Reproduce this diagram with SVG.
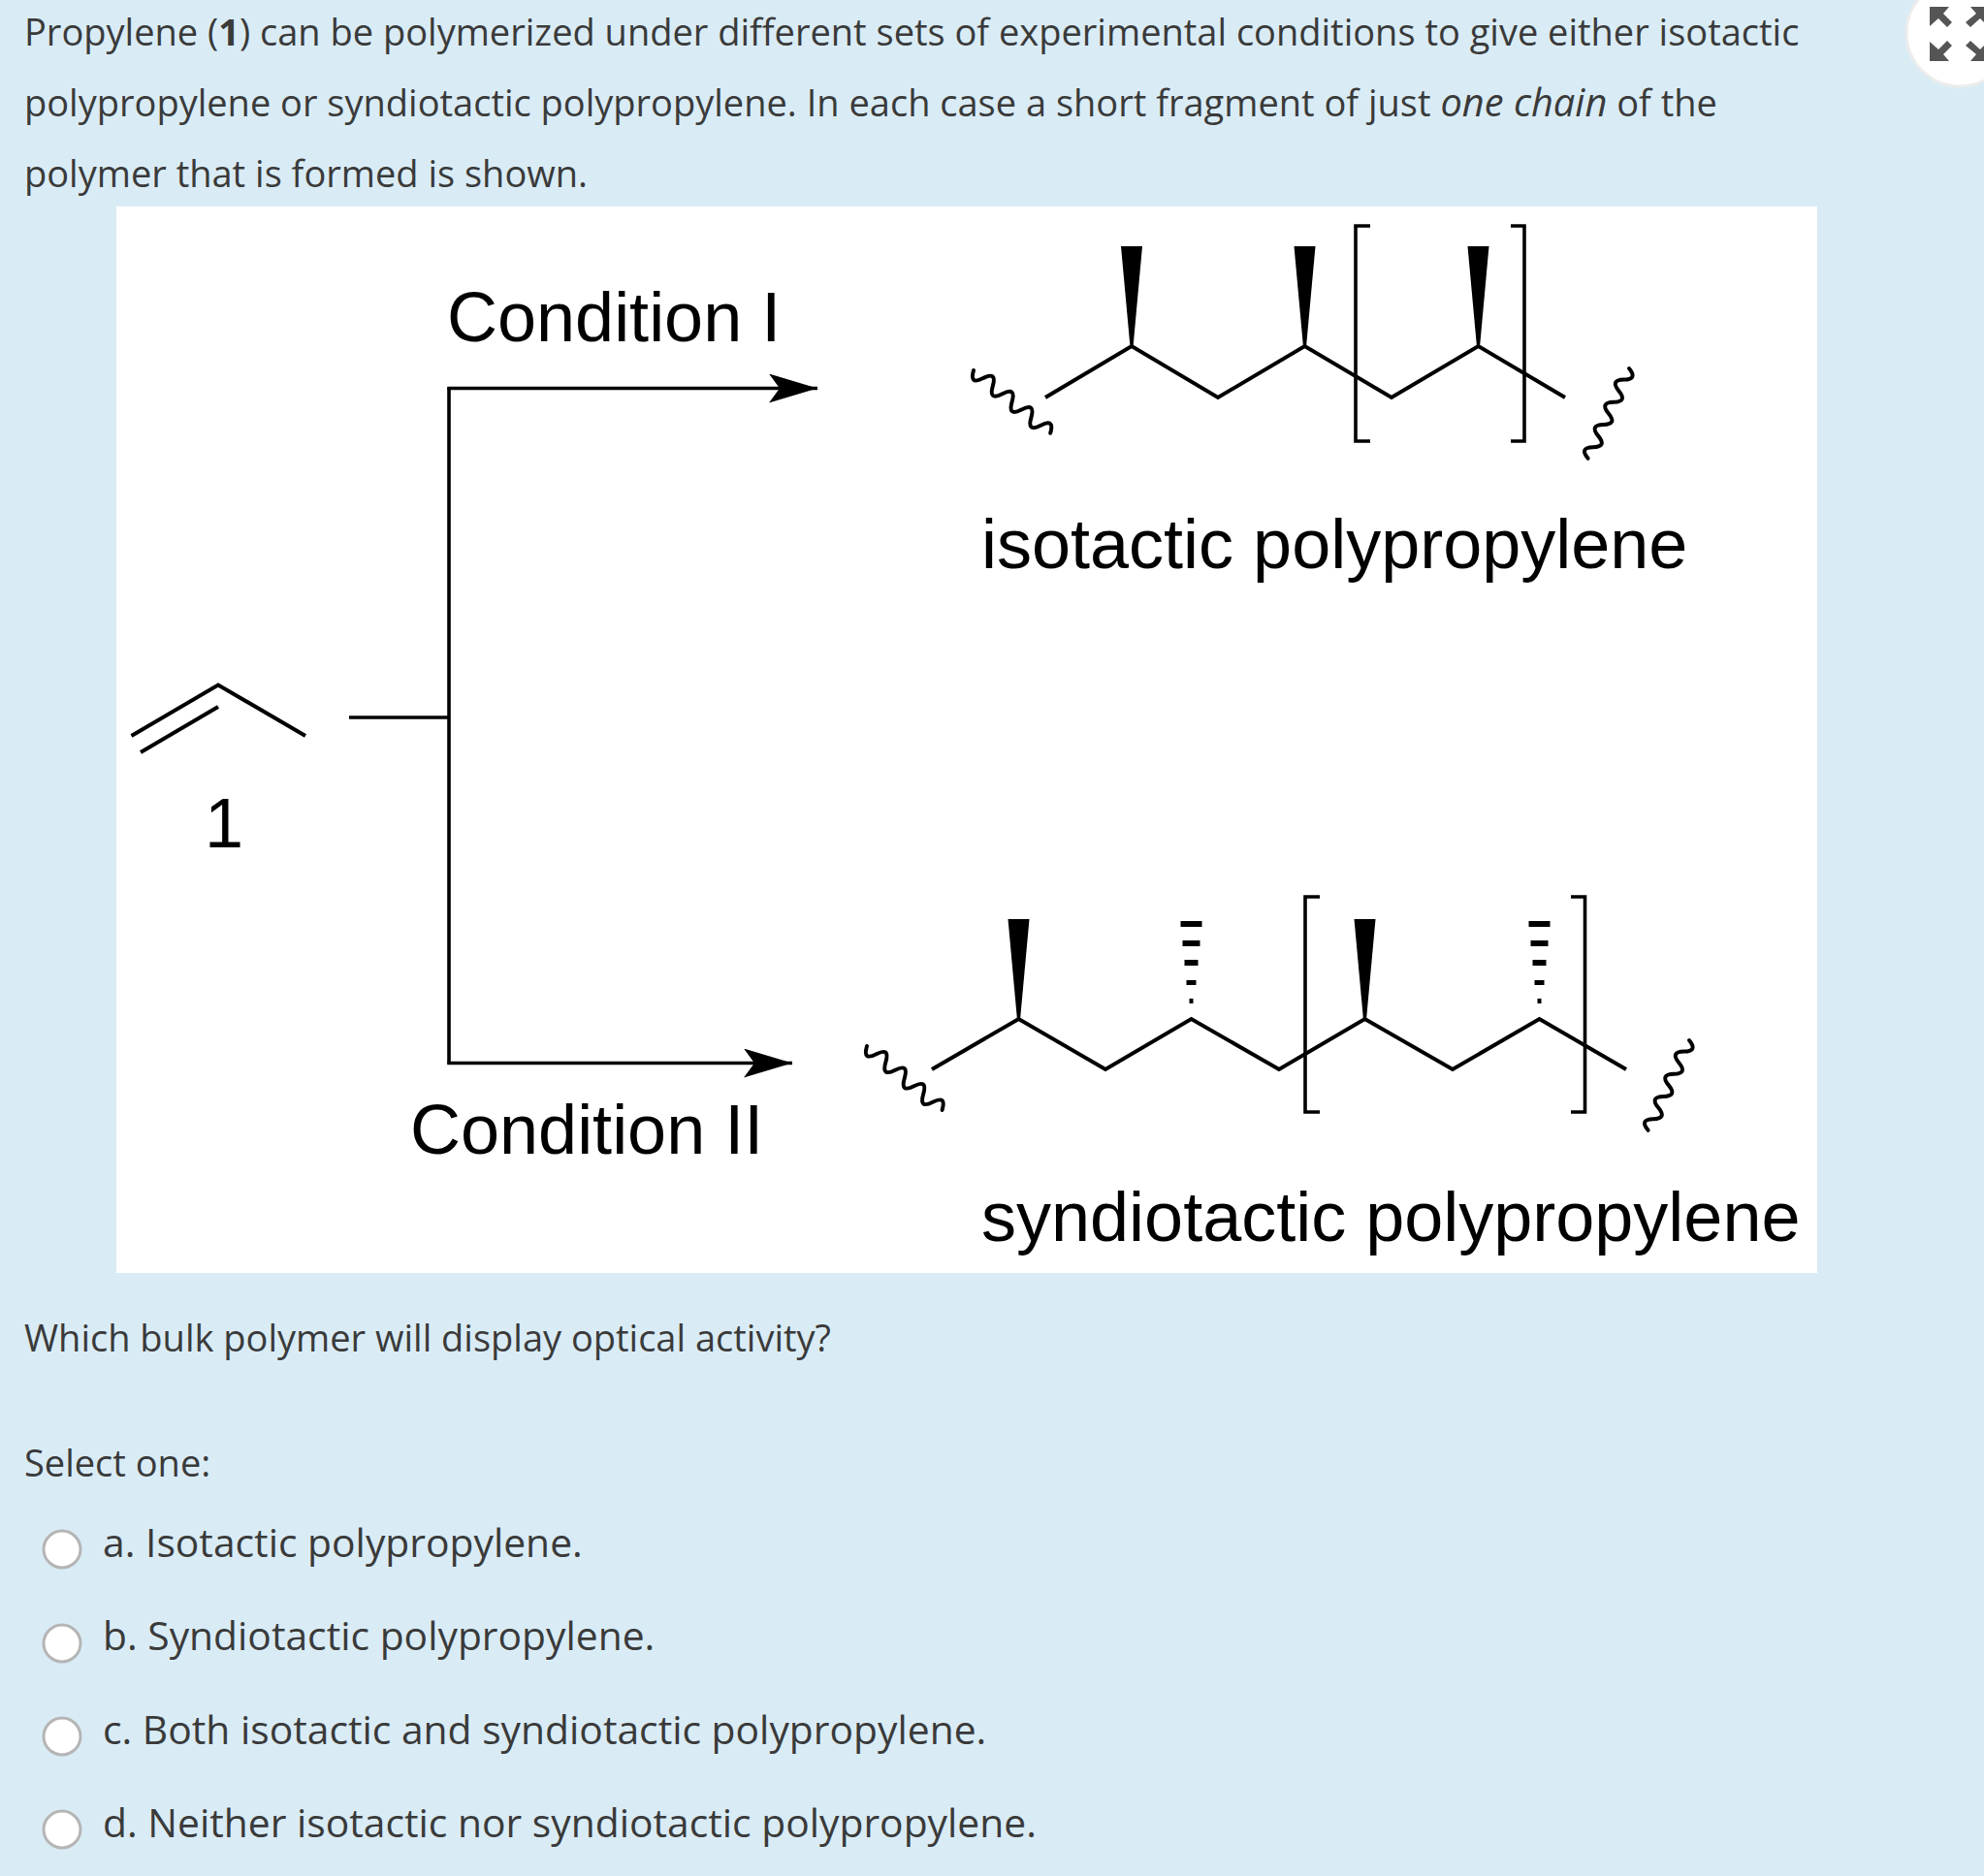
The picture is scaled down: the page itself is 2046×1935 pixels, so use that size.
<svg xmlns="http://www.w3.org/2000/svg" width="2046" height="1935" viewBox="0 0 2046 1935">
<style>
.q{font-family:"Open Sans",sans-serif;font-size:38px;fill:#3a3a3a}
.o{font-family:"Open Sans",sans-serif;font-size:40.800px;fill:#3a3a3a}
.l{font-family:"Liberation Sans",Arial,sans-serif;font-size:72px;fill:#000}
.b{fill:none;stroke:#000;stroke-width:4;stroke-linejoin:miter}
.w{fill:none;stroke:#000;stroke-width:4;stroke-linecap:round}
.c{fill:none;stroke:#000;stroke-width:3.600}
.r{fill:#fff;stroke:#b5b5b5;stroke-width:3}
.h{fill:#000}
</style>
<defs>
<marker id="arrow" markerUnits="userSpaceOnUse" markerWidth="52" markerHeight="32" refX="50" refY="15" orient="auto">
<path d="M50,15 L0,0 L11,15 L0,30 Z" fill="#000"/>
</marker>
<path id="wedge" d="M-1.500,0 L-11,-104 L11,-104 L1.500,0 Z" fill="#000"/>
<g id="hash">
<rect class="h" x="-11" y="-215" width="22" height="6"/>
<rect class="h" x="-9" y="-195" width="18" height="6"/>
<rect class="h" x="-7" y="-175" width="14" height="6"/>
<rect class="h" x="-5" y="-154" width="10" height="5"/>
<rect class="h" x="-2" y="-135" width="4" height="5"/>
</g>
</defs>
<rect width="2046" height="1935" fill="#d9ecf6"/>
<g id="question-text">
<text class="q" x="25" y="47">Propylene (<tspan font-weight="700">1</tspan>) can be polymerized under different sets of experimental conditions to give either isotactic</text>
<text class="q" x="25" y="120">polypropylene or syndiotactic polypropylene. In each case a short fragment of just <tspan font-style="italic" font-size="39.800">one chain</tspan> of the</text>
<text class="q" x="25" y="193">polymer that is formed is shown.</text>
<text class="q" x="25" y="1394">Which bulk polymer will display optical activity?</text>
<text class="q" x="25" y="1523">Select one:</text>
</g>
<g id="expand-icon">
<circle cx="2021" cy="34" r="55" fill="#fff" stroke="#ececec" stroke-width="3"/>
<path fill="#555" d="M1990,7 H2010 L2004,14 L2013,23 L2008,28 L1999,19 L1990,27 Z M2046,7 H2032 L2038,14 L2027,23 L2032,28 L2042,19 L2046,23 Z M1990,63 H2010 L2004,56 L2013,47 L2008,42 L1999,51 L1990,43 Z M2046,63 H2032 L2038,56 L2027,47 L2032,42 L2042,51 L2046,47 Z"/>
</g>
<rect id="figure-panel" x="120" y="213" width="1754" height="1100" fill="#fff"/>
<g id="connectors">
<path class="c" d="M360,740 H463"/>
<path class="c" d="M463,400.500 V1096.500"/>
<path class="c" d="M461.200,400.500 H843" marker-end="url(#arrow)"/>
<path class="c" d="M461.200,1096.500 H817" marker-end="url(#arrow)"/>
</g>
<g id="propylene">
<path class="b" d="M135.500,759 L225,706.500 L315,759"/>
<path class="b" d="M145,776 L225,729"/>
<text class="l" x="231" y="874" text-anchor="middle">1</text>
</g>
<g id="condition-1"><text class="l" x="461" y="352">Condition I</text></g>
<g id="condition-2"><text class="l" x="423" y="1190">Condition II</text></g>
<g id="isotactic">
<path class="b" d="M1078,410 L1167,357 L1256,410 L1345.500,357 L1435,410 L1524.500,357 L1614,410"/>
<use href="#wedge" x="1167" y="358"/>
<use href="#wedge" x="1345.500" y="358"/>
<use href="#wedge" x="1524.500" y="358"/>
<path class="c" d="M1413,233 H1398 V455 H1413"/>
<path class="c" d="M1558,233 H1572 V455 H1558"/>
<path class="w" d="M1004,382 q-4.550,15.650 9.900,8.100 t9.900,8.100 t9.900,8.100 t9.900,8.100 t9.900,8.100 t9.900,8.100 t9.900,8.100 t9.900,8.100"/>
<path class="w" d="M1680,380 q9.350,11.300 -5.300,11.600 t-5.300,11.600 t-5.300,11.600 t-5.300,11.600 t-5.300,11.600 t-5.300,11.600 t-5.300,11.600 t-5.300,11.600"/>
<text class="l" x="1012" y="586">isotactic polypropylene</text>
</g>
<g id="syndiotactic">
<path class="b" d="M961,1103 L1050.500,1051 L1140,1103 L1228.500,1051 L1319,1103 L1407.500,1051 L1498,1103 L1587.500,1051 L1677,1103"/>
<use href="#wedge" x="1050.500" y="1052"/>
<use href="#wedge" x="1407.500" y="1052"/>
<use href="#hash" x="1228.500" y="1165"/>
<use href="#hash" x="1587.500" y="1165"/>
<path class="c" d="M1361,925 H1346 V1147 H1361"/>
<path class="c" d="M1620,925 H1634.500 V1147 H1620"/>
<path class="w" d="M894,1079 q-4.650,15.700 9.700,8.250 t9.700,8.250 t9.700,8.250 t9.700,8.250 t9.700,8.250 t9.700,8.250 t9.700,8.250 t9.700,8.250"/>
<path class="w" d="M1742,1073 q9.350,11.300 -5.300,11.600 t-5.300,11.600 t-5.300,11.600 t-5.300,11.600 t-5.300,11.600 t-5.300,11.600 t-5.300,11.600 t-5.300,11.600"/>
<text class="l" x="1012" y="1280">syndiotactic polypropylene</text>
</g>
<g id="option-a"><circle class="r" cx="64" cy="1598" r="19"/><text class="o" x="106" y="1606">a. Isotactic polypropylene.</text></g>
<g id="option-b"><circle class="r" cx="64" cy="1695" r="19"/><text class="o" x="106" y="1702">b. Syndiotactic polypropylene.</text></g>
<g id="option-c"><circle class="r" cx="64" cy="1791" r="19"/><text class="o" x="106" y="1799">c. Both isotactic and syndiotactic polypropylene.</text></g>
<g id="option-d"><circle class="r" cx="64" cy="1887" r="19"/><text class="o" x="106" y="1895">d. Neither isotactic nor syndiotactic polypropylene.</text></g>
</svg>
